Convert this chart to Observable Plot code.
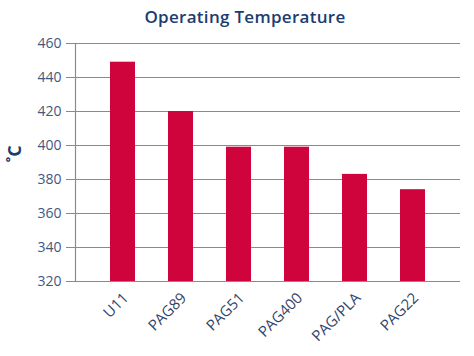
<!DOCTYPE html>
<html>
<head>
<meta charset="utf-8">
<script src="https://cdn.jsdelivr.net/npm/d3@7"></script>
<script src="https://cdn.jsdelivr.net/npm/@observablehq/plot@0.6"></script>
<style>
  html, body { margin: 0; padding: 0; background: #fff; }
  #title { width: 474px; height: 26px; box-sizing: border-box; padding-top: 7px; text-align: center; line-height: 20px;
    font-family: "Open Sans", sans-serif; font-weight: 600; font-size: 17px; color: #1d3c6e; padding-left: 16px; letter-spacing: 0.3px; }
  svg { display: block; }
</style>
</head>
<body>
<div id="title">Operating Temperature</div>
<div id="chart"></div>
<script>
const categories = ["U11", "PAG89", "PAG51", "PAG400", "PAG/PLA", "PAG22"];
const temperatures = [449, 420, 399, 399, 383, 374];
const yTicks = [320, 340, 360, 380, 400, 420, 440, 460];
const yLabel = "˚C";

const data = categories.map((c, i) => ({name: c, value: temperatures[i]}));

const chart = Plot.plot({
  width: 474,
  height: 330,
  marginTop: 17,
  marginBottom: 75,
  marginLeft: 75,
  marginRight: 14,
  style: {fontFamily: "'Open Sans', sans-serif", color: "#3b4f78", background: "#fff"},
  x: {domain: categories, paddingInner: 0.57, paddingOuter: 0.58, label: null},
  y: {domain: [320, 460], ticks: yTicks, label: null},
  marks: [
    Plot.gridY(yTicks, {stroke: "#8a8a8a", strokeOpacity: 1, strokeWidth: 1.2}),
    Plot.barY(data, {x: "name", y1: 320, y2: "value", fill: "#d0043c"}),
    Plot.ruleY([320], {stroke: "#8a8a8a", strokeWidth: 1.2}),
    Plot.frame({anchor: "left", stroke: "#8a8a8a", strokeWidth: 1.2}),
    Plot.axisY(yTicks, {tickSize: 9, tickPadding: 5, fontSize: 14, stroke: "#8a8a8a", label: null, fill: "#44577f", style: "letter-spacing:0.6px"}),
    Plot.axisX({tickSize: 0, tickRotate: -45, tickPadding: 12, dx: 3, dy: 2, fontSize: 15, label: null, fill: "#2f4670", style: "letter-spacing:0.8px"}),
    Plot.text([yLabel], {frameAnchor: "left", dx: -60, rotate: -90, fontSize: 18, fontWeight: "bold", fill: "#1d3c6e"})
  ]
});
document.getElementById("chart").appendChild(chart);
</script>
</body>
</html>
